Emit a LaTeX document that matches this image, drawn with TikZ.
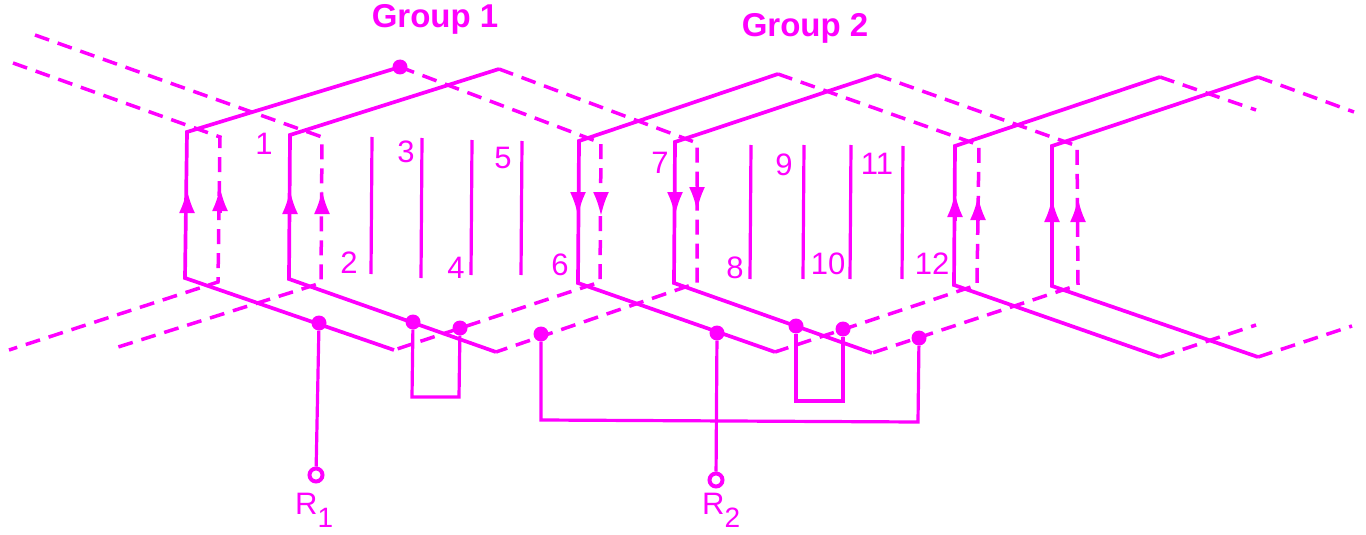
\documentclass[tikz,border=0pt]{standalone}
\usepackage{fontspec}
\setmainfont{Liberation Sans}
\usepackage{xcolor}
\usetikzlibrary{arrows.meta}
\definecolor{sdcol}{HTML}{FF00FF}
\tikzset{
  sdline/.style={draw=sdcol, line width=3.7pt, line join=miter},
  sdthin/.style={draw=sdcol, line width=3.2pt},
  sddash/.style={draw=sdcol, line width=3.5pt, dash pattern=on 15pt off 9pt},
  sdtip/.style={draw=sdcol, line width=3pt, -{Latex[length=24pt,width=16pt,sdcol]}},
  sdlabel/.style={text=sdcol, inner sep=0pt, font=\fontsize{31}{31}\selectfont},
  sdgroup/.style={text=sdcol, inner sep=0pt, font=\fontsize{33}{33}\selectfont\bfseries}
}
\newcommand{\sdjoint}[1]{node[circle, fill=sdcol, inner sep=0pt, minimum size=15pt](#1) {}}
\newcommand{\sdterm}[1]{node[circle, draw=sdcol, line width=4pt, fill=white, inner sep=0pt, minimum size=13pt](#1) {}}
\newcommand{\sdarrow}[4]{\coordinate (#1b) at (#2,#3); \coordinate (#1t) at (#2,#4); \draw[sdtip] (#1b) -- (#1t);}
\newcommand{\sdsub}[2]{#1\raisebox{-13pt}{\fontsize{28}{28}\selectfont #2}}
\begin{document}
\begin{tikzpicture}[x=1pt,y=-1pt]
\useasboundingbox (0,0) rectangle (1366,535);
\coordinate (b1) at (185,278); \coordinate (t1) at (187,132); \coordinate (p1) at (400,67); \coordinate (f1) at (394,350);
\coordinate (b2) at (289,279); \coordinate (t2) at (290,135); \coordinate (p2) at (499,69); \coordinate (f2) at (496,352);
\coordinate (b3) at (578,283); \coordinate (t3) at (579,141); \coordinate (p3) at (778,74); \coordinate (f3) at (775,352);
\coordinate (b4) at (674,283); \coordinate (t4) at (675,142); \coordinate (p4) at (877,75); \coordinate (f4) at (872,353);
\coordinate (b5) at (954,285); \coordinate (t5) at (955,146); \coordinate (p5) at (1160,77); \coordinate (f5) at (1160,357);
\coordinate (b6) at (1052,286); \coordinate (t6) at (1052,146); \coordinate (p6) at (1258,77); \coordinate (f6) at (1258,357);
\draw[sdline] (f1) -- (b1) -- (t1) -- (p1);
\draw[sdline] (f2) -- (b2) -- (t2) -- (p2);
\draw[sdline] (f3) -- (b3) -- (t3) -- (p3);
\draw[sdline] (f4) -- (b4) -- (t4) -- (p4);
\draw[sdline] (f5) -- (b5) -- (t5) -- (p5);
\draw[sdline] (f6) -- (b6) -- (t6) -- (p6);
\coordinate (e1) at (13,63); \coordinate (u1) at (220,137); \coordinate (v1) at (218,282); \coordinate (g1) at (9,350);
\coordinate (e2) at (35,35); \coordinate (u2) at (322,137); \coordinate (v2) at (321,283); \coordinate (g2) at (115,348);
\coordinate (u3) at (601,143); \coordinate (v3) at (600,282);
\coordinate (u4) at (697,143); \coordinate (v4) at (697,283);
\coordinate (u5) at (979,145); \coordinate (v5) at (977,285);
\coordinate (u6) at (1077,146); \coordinate (v6) at (1078,285);
\coordinate (h1) at (1256,110); \coordinate (h2) at (1354,112);
\coordinate (k1) at (1256,325); \coordinate (k2) at (1352,326);
\draw[sddash] (e1) -- (u1) -- (v1) -- (g1);
\draw[sddash] (e2) -- (u2) -- (v2) -- (g2);
\draw[sddash] (p1) -- (u3) -- (v3) -- (f1);
\draw[sddash] (p2) -- (u4) -- (v4) -- (f2);
\draw[sddash] (p3) -- (u5) -- (v5) -- (f3);
\draw[sddash] (p4) -- (u6) -- (v6) -- (f4);
\draw[sddash] (p5) -- (h1);
\draw[sddash] (p6) -- (h2);
\draw[sddash] (f5) -- (k1);
\draw[sddash] (f6) -- (k2);
\coordinate (l1a) at (372,137); \coordinate (l1b) at (371,274);
\coordinate (l2a) at (422,138); \coordinate (l2b) at (421,278);
\coordinate (l3a) at (472,140); \coordinate (l3b) at (471,275);
\coordinate (l4a) at (522,141); \coordinate (l4b) at (521,275);
\coordinate (l5a) at (751,145); \coordinate (l5b) at (750,279);
\coordinate (l6a) at (804,145); \coordinate (l6b) at (803,279);
\coordinate (l7a) at (851,145); \coordinate (l7b) at (850,279);
\coordinate (l8a) at (903,146); \coordinate (l8b) at (902,279);
\draw[sdthin] (l1a) -- (l1b);
\draw[sdthin] (l2a) -- (l2b);
\draw[sdthin] (l3a) -- (l3b);
\draw[sdthin] (l4a) -- (l4b);
\draw[sdthin] (l5a) -- (l5b);
\draw[sdthin] (l6a) -- (l6b);
\draw[sdthin] (l7a) -- (l7b);
\draw[sdthin] (l8a) -- (l8b);
\sdarrow{a1}{187}{213}{189}
\sdarrow{a2}{220}{213}{187}
\sdarrow{a3}{290}{214}{190}
\sdarrow{a4}{322}{214}{190}
\sdarrow{a5}{578}{192}{216}
\sdarrow{a6}{601}{192}{216}
\sdarrow{a7}{675}{192}{216}
\sdarrow{a8}{697}{185}{211}
\sdarrow{a9}{955}{221}{193}
\sdarrow{a10}{978}{221}{196}
\sdarrow{a11}{1052}{221}{198}
\sdarrow{a12}{1078}{221}{198}
\draw (400,67) \sdjoint{j0} ;
\draw (319,323) \sdjoint{j1} ;
\draw (413,322) \sdjoint{j2} ;
\draw (460,328) \sdjoint{j3} ;
\draw (541,334) \sdjoint{j4} ;
\draw (717,333) \sdjoint{j5} ;
\draw (796,326) \sdjoint{j6} ;
\draw (843,329) \sdjoint{j7} ;
\draw (919,338) \sdjoint{j8} ;
\coordinate (w1) at (412,397); \coordinate (w2) at (459,397);
\coordinate (w3) at (796,401); \coordinate (w4) at (843,401);
\coordinate (w5) at (541,420); \coordinate (w6) at (918,422);
\draw[sdthin] (j2) -- (w1) -- (w2) -- (j3);
\draw[sdthin] (j6) -- (w3) -- (w4) -- (j7);
\draw[sdthin] (j4) -- (w5) -- (w6) -- (j8);
\draw (316,475) \sdterm{r1} ;
\draw (716,480) \sdterm{r2} ;
\draw[sdthin] (j1) -- (r1);
\draw[sdthin] (j5) -- (r2);
\node[sdgroup] (g1t) at (435,19) {Group 1};
\node[sdgroup] (g2t) at (805,28) {Group 2};
\node[sdlabel] (n1) at (264,144) {1};
\node[sdlabel] (n2) at (349,263) {2};
\node[sdlabel] (n3) at (406,152) {3};
\node[sdlabel] (n4) at (456,268) {4};
\node[sdlabel] (n5) at (503,158) {5};
\node[sdlabel] (n6) at (560,265) {6};
\node[sdlabel] (n7) at (660,163) {7};
\node[sdlabel] (n8) at (735,268) {8};
\node[sdlabel] (n9) at (784,165) {9};
\node[sdlabel] (n10) at (828,264) {10};
\node[sdlabel] (n11) at (877,164) {11};
\node[sdlabel] (n12) at (932,264) {12};
\node[sdlabel, anchor=west] (nr1) at (295,510) {\sdsub{R}{1}};
\node[sdlabel, anchor=west] (nr2) at (702,510) {\sdsub{R}{2}};
\end{tikzpicture}
\end{document}
